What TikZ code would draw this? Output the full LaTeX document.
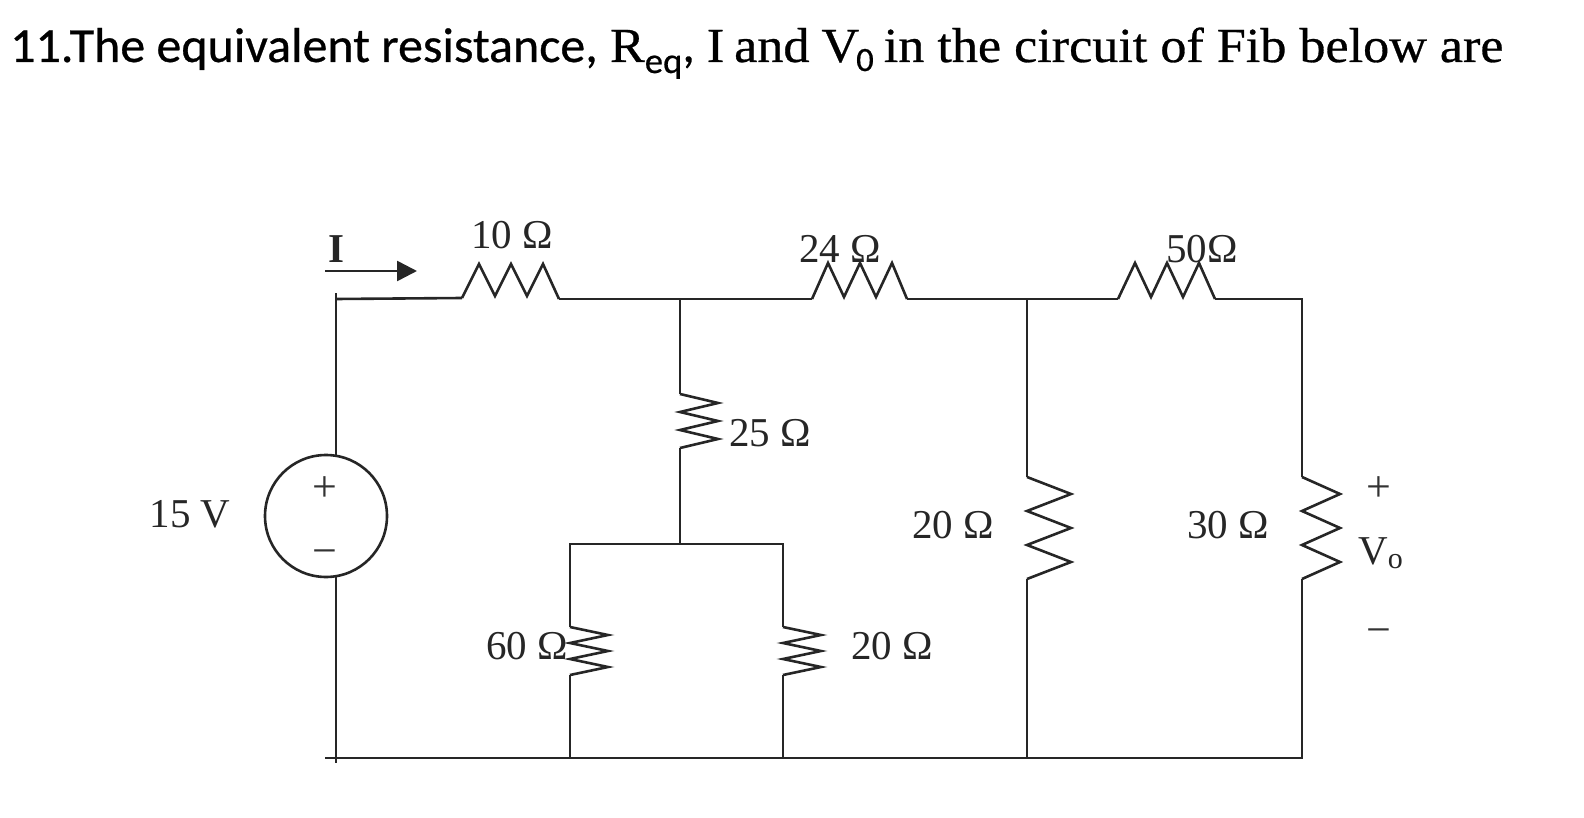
\documentclass[tikz,border=0pt]{standalone}
\usepackage{fontspec}
\usetikzlibrary{arrows.meta}
\setmainfont{Liberation Serif}
\newfontfamily\sansT{Carlito}[FakeStretch=1.02,FakeBold=0.6]
\newfontfamily\serifT{Liberation Serif}[FakeStretch=1.064,FakeBold=0.6]
\tikzset{
  wire/.style={draw=black!85,line width=2.6pt,line join=miter},
  lab/.style={inner sep=0pt,font=\fontsize{41}{41}\selectfont,text=black!85},
  sym/.style={inner sep=0pt,font=\fontsize{44}{44}\selectfont,text=black!80},
}
\begin{document}
\begin{tikzpicture}[x=1pt,y=-1pt]
\useasboundingbox (0,0) rectangle (1584,818);
\node[anchor=base west,inner sep=0pt,font=\fontsize{49}{49}\selectfont] (title) at (10,62)
  {{\sansT 11.The equivalent resistance,} {\serifT R\raisebox{-11pt}{\fontsize{36}{36}\selectfont\sansT eq}{\sansT ,}\hspace{12pt}I\hspace{-3pt} and\hspace{-1pt} V\hspace{-3pt}\raisebox{-9pt}{\fontsize{34}{34}\selectfont\sansT 0}\hspace{-3pt} in the circuit of Fib below are}};
% junctions
\coordinate (tl) at (336,299);
\coordinate (tick) at (336,293);
\coordinate (ra1) at (462,298);
\coordinate (ra2) at (559,299);
\coordinate (j1) at (680,299);
\coordinate (rb1) at (812,299);
\coordinate (rb2) at (907,299);
\coordinate (j2) at (1027,299);
\coordinate (rc1) at (1118,299);
\coordinate (rc2) at (1215,299);
\coordinate (tr) at (1302,299);
\coordinate (r25t) at (680,394);
\coordinate (r25b) at (680,448);
\coordinate (j3) at (680,544);
\coordinate (pl) at (570,544);
\coordinate (pr) at (783,544);
\coordinate (r60t) at (570,627);
\coordinate (r60b) at (570,675);
\coordinate (r20t) at (783,627);
\coordinate (r20b) at (783,675);
\coordinate (r20vt) at (1027,477);
\coordinate (r20vb) at (1027,579);
\coordinate (r30t) at (1302,477);
\coordinate (r30b) at (1302,579);
\coordinate (bl) at (336,758);
\coordinate (bx) at (325,758);
\coordinate (by) at (336,763);
\coordinate (b60) at (570,758);
\coordinate (b20) at (783,758);
\coordinate (b2) at (1027,758);
\coordinate (br) at (1302,758);
\node[circle,draw=black!85,line width=2.6pt,minimum size=122pt,inner sep=0pt] (src) at (326,516) {};
\coordinate (srct) at (336,455);
\coordinate (srcb) at (336,577);
% wires
\draw[wire] (srct) -- (tick);
\draw[wire] (tl) -- (ra1);
\draw[wire] (ra2) -- (rb1);
\draw[wire] (rb2) -- (rc1);
\draw[wire] (rc2) -- (tr) -- (r30t);
\draw[wire] (j1) -- (r25t);
\draw[wire] (r25b) -- (j3);
\draw[wire] (r60t) -- (pl) -- (pr) -- (r20t);
\draw[wire] (r60b) -- (b60);
\draw[wire] (r20b) -- (b20);
\draw[wire] (j2) -- (r20vt);
\draw[wire] (r20vb) -- (b2);
\draw[wire] (r30b) -- (br) -- (bx);
\draw[wire] (srcb) -- (by);
% horizontal resistors
\draw[wire] (ra1) -- ++(17,-34) -- ++(16,32) -- ++(16,-32) -- ++(16,32) -- ++(16,-32) -- (ra2);
\draw[wire] (rb1) -- ++(16,-36) -- ++(16,34) -- ++(16,-34) -- ++(16,34) -- ++(16,-34) -- (rb2);
\draw[wire] (rc1) -- ++(17,-36) -- ++(16,34) -- ++(16,-34) -- ++(16,34) -- ++(16,-34) -- (rc2);
% vertical resistors
\draw[wire] (r25t) -- ++(38,9) -- ++(-38,9) -- ++(38,9) -- ++(-38,9) -- ++(38,9) -- (r25b);
\draw[wire] (r60t) -- ++(38,8) -- ++(-38,8) -- ++(38,8) -- ++(-38,8) -- ++(38,8) -- (r60b);
\draw[wire] (r20t) -- ++(38,8) -- ++(-38,8) -- ++(38,8) -- ++(-38,8) -- ++(38,8) -- (r20b);
\draw[wire] (r20vt) -- ++(44,17) -- ++(-44,17) -- ++(44,17) -- ++(-44,17) -- ++(44,17) -- (r20vb);
\draw[wire] (r30t) -- ++(38,17) -- ++(-38,17) -- ++(38,17) -- ++(-38,17) -- ++(38,17) -- (r30b);
% current arrow
\coordinate (ia) at (325,271);
\coordinate (ib) at (417,271);
\draw[wire,-{Triangle[length=20pt,width=20pt]}] (ia) -- (ib);
% labels
\node[lab,font=\fontsize{41}{41}\selectfont\bfseries] (li) at (336,249) {I};
\node[lab] (l10) at (512,235) {10 Ω};
\node[lab] (l24) at (840,249) {24 Ω};
\node[lab] (l50) at (1202,249) {50Ω};
\node[lab] (l25) at (770,433) {25 Ω};
\node[lab] (l15) at (190,514) {15 V};
\node[lab] (l20a) at (953,525) {20 Ω};
\node[lab] (l30) at (1228,525) {30 Ω};
\node[lab] (l60) at (527,646) {60 Ω};
\node[lab] (l20b) at (892,646) {20 Ω};
\node[sym] (sp) at (325,489) {+};
\node[sym] (sm) at (325,558) {−};
\node[sym] (vp) at (1379,489) {+};
\node[sym] (vm) at (1379,637) {−};
\node[lab,anchor=base west] (vo) at (1358,564) {V\raisebox{-4pt}{\fontsize{30}{30}\selectfont o}};
\end{tikzpicture}
\end{document}
